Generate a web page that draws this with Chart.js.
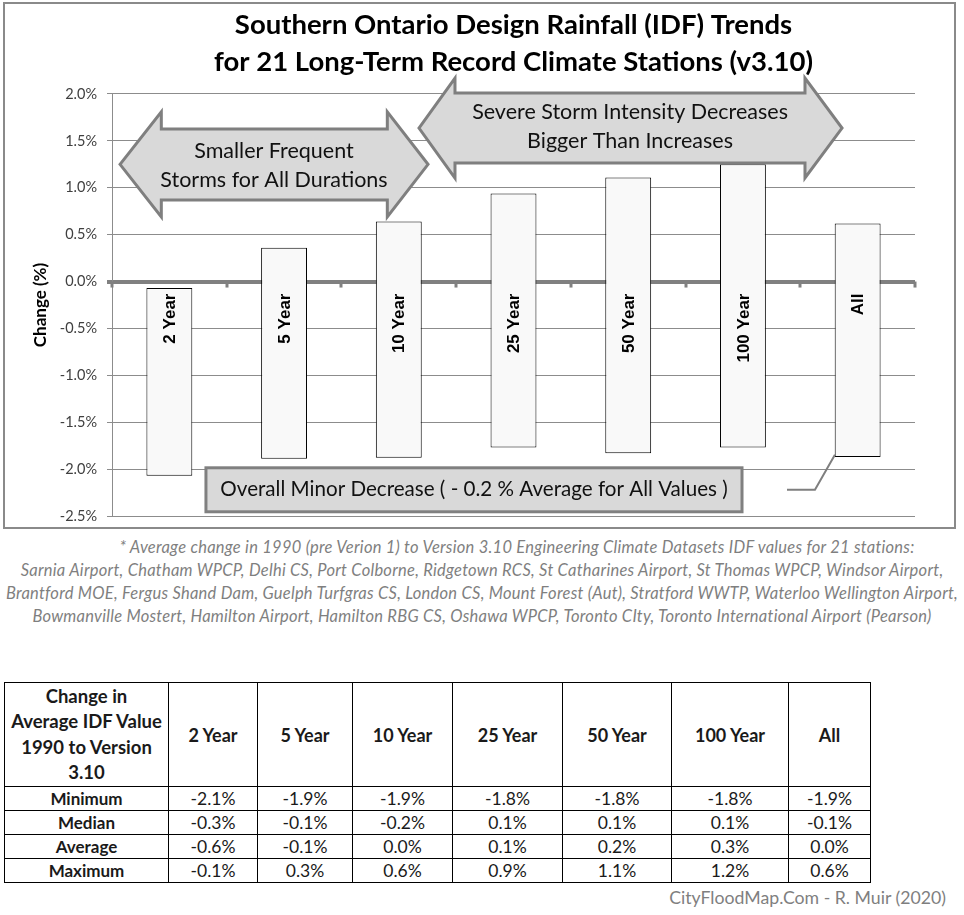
<!DOCTYPE html>
<html>
<head>
<meta charset="utf-8">
<script src="https://cdn.jsdelivr.net/npm/chart.js@4.4.1/dist/chart.umd.min.js"></script>
<style>
  body { margin: 0; background: #fff; width: 964px; height: 915px; position: relative; font-family: Lato, "Open Sans", sans-serif; }
  #box { position: absolute; left: 3px; top: 2px; width: 953px; height: 527px; border: 2px solid #8a8a8a; box-sizing: border-box; }
  #box canvas { position: absolute; left: 0; top: 0; }
  #note { position: absolute; left: 0; top: 536px; width: 964px; color: #7f7f7f; font-style: italic; font-size: 16.5px; letter-spacing: 0.25px; line-height: 23px; }
  #note div { white-space: nowrap; text-align: center; }
  #tbl { position: absolute; left: 4px; top: 682px; border-collapse: collapse; table-layout: fixed; width: 866px; }
  #tbl td { border: 1px solid #000; text-align: center; padding: 0; color: #1a1a1a; font-size: 17.5px; height: 23px; overflow: hidden; white-space: nowrap; }
  #tbl tr.head td { height: 103px; font-weight: bold; font-size: 18px; }
  #tbl td.lab { font-weight: bold; font-size: 17px; }
  #tbl tr.head td.lab { line-height: 25.5px; font-size: 18.5px; }
  #credit { position: absolute; right: 18px; top: 887px; color: #7f7f7f; font-size: 17.7px; }
</style>
</head>
<body>
<div id="box"><canvas id="myChart" width="949" height="523"></canvas></div>
<div id="note"></div>
<table id="tbl"></table>
<div id="credit">CityFloodMap.Com - R. Muir (2020)</div>
<script>
// chart values (% change, bottom and top of each bar)
const categories = ['2 Year', '5 Year', '10 Year', '25 Year', '50 Year', '100 Year', 'All'];
const barLow = [-2.07, -1.89, -1.88, -1.77, -1.83, -1.77, -1.87];
const barHigh = [-0.07, 0.36, 0.64, 0.94, 1.11, 1.25, 0.62];
const yMin = -2.5, yMax = 2.0, yStep = 0.5;

// table under the chart
const rowNames = ['Minimum', 'Median', 'Average', 'Maximum'];
const tableMin = [-2.1, -1.9, -1.9, -1.8, -1.8, -1.8, -1.9];
const tableMedian = [-0.3, -0.1, -0.2, 0.1, 0.1, 0.1, -0.1];
const tableAverage = [-0.6, -0.1, 0.0, 0.1, 0.2, 0.3, 0.0];
const tableMax = [-0.1, 0.3, 0.6, 0.9, 1.1, 1.2, 0.6];

const noteLines = [
    '* Average change in 1990 (pre Verion 1) to Version 3.10 Engineering Climate Datasets IDF values for 21 stations:',
    'Sarnia Airport, Chatham WPCP, Delhi CS, Port Colborne, Ridgetown RCS, St Catharines Airport, St Thomas WPCP, Windsor Airport,',
    'Brantford MOE, Fergus Shand Dam, Guelph Turfgras CS, London CS, Mount Forest (Aut), Stratford WWTP, Waterloo Wellington Airport,',
    'Bowmanville Mostert, Hamilton Airport, Hamilton RBG CS, Oshawa WPCP, Toronto CIty, Toronto International Airport (Pearson)'
];

// callouts, in axis units (x = category index, y = %)
const arrows = [
    { tipL: -0.43, shaftL: -0.07, shaftR: 1.90, tipR: 2.255, headTop: 1.81, shaftTop: 1.627, shaftBot: 0.87, headBot: 0.689,
      textX: 0.912, textY: [1.392, 1.083], text: ['Smaller Frequent', 'Storms for All Durations'] },
    { tipL: 2.176, shaftL: 2.49, shaftR: 5.541, tipR: 5.864, headTop: 2.17, shaftTop: 2.01, shaftBot: 1.264, headBot: 1.104,
      textX: 4.016, textY: [1.808, 1.499], text: ['Severe Storm Intensity Decreases', 'Bigger Than Increases'] }
];
const noteBox = { left: 0.319, right: 4.992, top: -1.986, bottom: -2.455, textX: 2.656, textY: -2.211,
    text: 'Overall Minor Decrease ( - 0.2 % Average for All Values )' };
const connector = [[5.384, -2.219], [5.628, -2.219], [5.802, -1.846]];

// footnote + table
document.getElementById('note').innerHTML = noteLines.map(function(t, i) {
    return '<div' + (i === 0 ? ' style="padding-left:70px"' : '') + '>' + t + '</div>';
}).join('');

const colWidths = [164, 89, 95, 100, 110, 109, 117, 82];
let html = '<colgroup>' + colWidths.map(w => '<col style="width:' + w + 'px">').join('') + '</colgroup>';
html += '<tr class="head"><td class="lab">Change in<br>Average IDF Value<br>1990 to Version<br>3.10</td>';
categories.forEach(function(c) { html += '<td>' + c + '</td>'; });
html += '</tr>';
[tableMin, tableMedian, tableAverage, tableMax].forEach(function(row, r) {
    html += '<tr><td class="lab">' + rowNames[r] + '</td>';
    row.forEach(function(v) { html += '<td>' + v.toFixed(1) + '%</td>'; });
    html += '</tr>';
});
document.getElementById('tbl').innerHTML = html;

const calloutPlugin = {
    id: 'callouts',
    beforeDatasetsDraw(chart) {
        // tick marks under the zero line at the category boundaries
        const c = chart.ctx, xs = chart.scales.x, ys = chart.scales.y;
        const y0 = ys.getPixelForValue(0);
        c.save();
        c.strokeStyle = '#808080';
        c.lineWidth = 3;
        for (let i = 0; i <= categories.length; i++) {
            const x = Math.round(xs.getPixelForValue(i - 0.5));
            c.beginPath();
            c.moveTo(x, y0);
            c.lineTo(x, y0 + 6);
            c.stroke();
        }
        c.restore();
    },
    afterDatasetsDraw(chart) {
        const c = chart.ctx, xs = chart.scales.x, ys = chart.scales.y;
        const px = v => xs.getPixelForValue(v), py = v => ys.getPixelForValue(v);
        c.save();
        // labels inside the bars
        c.font = 'bold 17px "Liberation Sans", Arial, sans-serif';
        c.fillStyle = '#000';
        c.textAlign = 'right';
        c.textBaseline = 'middle';
        categories.forEach(function(lab, i) {
            c.save();
            c.translate(px(i), py(0) + 12);
            c.rotate(-Math.PI / 2);
            c.fillText(lab, 0, 1);
            c.restore();
        });
        // block arrows
        arrows.forEach(function(a) {
            const mid = (py(a.headTop) + py(a.headBot)) / 2;
            c.beginPath();
            c.moveTo(px(a.tipL), mid);
            c.lineTo(px(a.shaftL), py(a.headTop));
            c.lineTo(px(a.shaftL), py(a.shaftTop));
            c.lineTo(px(a.shaftR), py(a.shaftTop));
            c.lineTo(px(a.shaftR), py(a.headTop));
            c.lineTo(px(a.tipR), mid);
            c.lineTo(px(a.shaftR), py(a.headBot));
            c.lineTo(px(a.shaftR), py(a.shaftBot));
            c.lineTo(px(a.shaftL), py(a.shaftBot));
            c.lineTo(px(a.shaftL), py(a.headBot));
            c.closePath();
            c.fillStyle = '#d9d9d9';
            c.fill();
            c.lineWidth = 3;
            c.lineJoin = 'miter';
            c.strokeStyle = '#7f7f7f';
            c.stroke();
            c.fillStyle = '#111';
            c.font = '21.5px Lato, sans-serif';
            c.textAlign = 'center';
            a.text.forEach(function(t, k) { c.fillText(t, px(a.textX), py(a.textY[k])); });
        });
        // note box + connector
        const bx = px(noteBox.left), by = py(noteBox.top);
        const bw = px(noteBox.right) - bx, bh = py(noteBox.bottom) - by;
        c.fillStyle = '#d9d9d9';
        c.fillRect(bx, by, bw, bh);
        c.lineWidth = 3;
        c.strokeStyle = '#808080';
        c.strokeRect(bx, by, bw, bh);
        c.fillStyle = '#111';
        c.font = '20.6px Lato, sans-serif';
        c.textAlign = 'center';
        c.fillText(noteBox.text, px(noteBox.textX), py(noteBox.textY));
        c.beginPath();
        connector.forEach(function(p, k) {
            if (k === 0) c.moveTo(px(p[0]), py(p[1])); else c.lineTo(px(p[0]), py(p[1]));
        });
        c.lineWidth = 2;
        c.strokeStyle = '#7f7f7f';
        c.stroke();
        c.restore();
    }
};

const ctx = document.getElementById('myChart').getContext('2d');
const chart = new Chart(ctx, {
    type: 'bar',
    data: {
        labels: categories,
        datasets: [{
            label: 'Change',
            data: barLow.map((v, i) => [v, barHigh[i]]),
            backgroundColor: '#f9f9f9',
            borderColor: '#000',
            borderWidth: 1,
            borderSkipped: false,
            barPercentage: 0.4,
            categoryPercentage: 1.0
        }]
    },
    options: {
        responsive: false,
        animation: false,
        devicePixelRatio: 1,
        layout: { padding: { top: 0, left: 18, right: 39, bottom: 11 } },
        plugins: {
            legend: { display: false },
            tooltip: { enabled: false },
            title: {
                display: true,
                fullSize: false,
                text: ['Southern Ontario Design Rainfall (IDF) Trends', 'for 21 Long-Term Record Climate Stations (v3.10)'],
                color: '#000',
                font: { family: 'Lato', size: 27.5, weight: 'bold', lineHeight: 1.345 },
                padding: { top: 3, bottom: 13 }
            }
        },
        scales: {
            x: { display: false, offset: true, grid: { offset: true } },
            y: {
                min: yMin,
                max: yMax,
                afterFit: function(s) { s.width = 89; s.paddingTop = 0; s.paddingBottom = 0; },
                ticks: {
                    stepSize: yStep,
                    color: '#404040',
                    padding: 10,
                    font: { family: 'Lato', size: 14.5 },
                    callback: v => (Math.abs(v) < 1e-9 ? 0 : v).toFixed(1) + '%'
                },
                grid: {
                    color: c => (c.tick && Math.abs(c.tick.value) < 1e-9) ? '#808080' : '#8c8c8c',
                    lineWidth: c => (c.tick && Math.abs(c.tick.value) < 1e-9) ? 4 : 1,
                    tickLength: 5
                },
                border: { display: true, color: '#8c8c8c', width: 1 },
                title: {
                    display: true,
                    text: 'Change (%)',
                    color: '#000',
                    font: { family: 'Lato', size: 17, weight: 'bold' },
                    padding: { top: 7, bottom: 0 }
                }
            }
        }
    },
    plugins: [calloutPlugin]
});
</script>
</body>
</html>
